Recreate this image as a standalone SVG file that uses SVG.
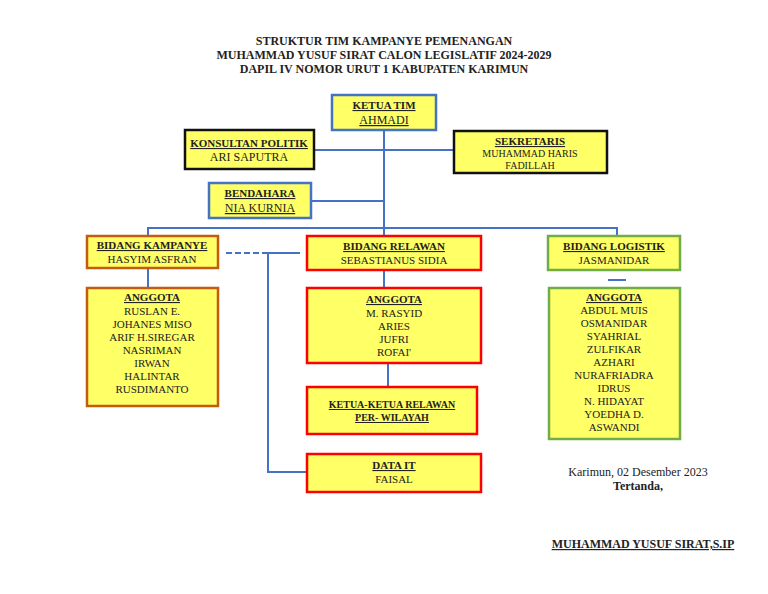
<svg xmlns="http://www.w3.org/2000/svg" width="768" height="594" viewBox="0 0 768 594">
<style>
text{font-family:"Liberation Serif","Times New Roman",serif;font-size:11px;fill:#222;text-anchor:middle}
.b{font-weight:bold}
.u{text-decoration:underline}
.t{font-weight:bold;font-size:12px}
rect{fill:#FFFF66;stroke-width:2.5}
.bl{stroke:#4472C4}.bk{stroke:#111}.or{stroke:#C55A11}.rd{stroke:#FF0000}.gr{stroke:#70AD47}
.c{fill:none;stroke:#4472C4;stroke-width:2}
</style>
<rect x="0" y="0" width="768" height="594" style="fill:#fff;stroke:none"/>
<g id="title">
<text class="t" x="384" y="45">STRUKTUR TIM KAMPANYE PEMENANGAN</text>
<text class="t" x="384" y="59">MUHAMMAD YUSUF SIRAT CALON LEGISLATIF 2024-2029</text>
<text class="t" x="384" y="73">DAPIL IV NOMOR URUT 1 KABUPATEN KARIMUN</text>
</g>
<g id="connectors">
<path class="c" d="M384 130V236M314 150H454M311 201H384M148 236V228H617V236M148 268V288M384 270V288M388 363V387M262 253H300M268 253V472H307M608 280H626"/>
<path class="c" d="M226 253H262" stroke-dasharray="6 3"/>
</g>
<g id="ketua"><rect class="bl" x="332" y="95" width="104" height="35"/><text class="b u" x="384" y="109">KETUA TIM</text><text class="u" x="384" y="124" style="font-size:12px">AHMADI</text></g>
<g id="konsultan"><rect class="bk" x="185" y="130" width="129" height="39"/><text class="b u" x="249" y="147">KONSULTAN POLITIK</text><text x="249" y="161" style="font-size:12px">ARI SAPUTRA</text></g>
<g id="sekretaris"><rect class="bk" x="454" y="131" width="153" height="42"/><text class="b u" x="530" y="145">SEKRETARIS</text><text x="530" y="157" style="font-size:10px">MUHAMMAD HARIS</text><text x="530" y="169" style="font-size:10px">FADILLAH</text></g>
<g id="bendahara"><rect class="bl" x="209" y="183" width="102" height="35"/><text class="b u" x="260" y="197">BENDAHARA</text><text class="u" x="260" y="212" style="font-size:12px">NIA KURNIA</text></g>
<g id="kampanye"><rect class="or" x="87" y="236" width="131" height="32"/><text class="b u" x="152" y="249">BIDANG KAMPANYE</text><text x="152" y="263">HASYIM ASFRAN</text></g>
<g id="relawan"><rect class="rd" x="307" y="236" width="174" height="34"/><text class="b u" x="394" y="250">BIDANG RELAWAN</text><text x="394" y="264">SEBASTIANUS SIDIA</text></g>
<g id="logistik"><rect class="gr" x="548" y="236" width="132" height="34"/><text class="b u" x="614" y="250">BIDANG LOGISTIK</text><text x="614" y="264">JASMANIDAR</text></g>
<g id="anggota-kampanye"><rect class="or" x="87" y="288" width="131" height="118"/>
<text class="b u" x="152" y="301">ANGGOTA</text><text x="152" y="315">RUSLAN E.</text><text x="152" y="328">JOHANES MISO</text><text x="152" y="341">ARIF H.SIREGAR</text><text x="152" y="354">NASRIMAN</text><text x="152" y="367">IRWAN</text><text x="152" y="380">HALINTAR</text><text x="152" y="393">RUSDIMANTO</text></g>
<g id="anggota-relawan"><rect class="rd" x="307" y="288" width="174" height="75"/>
<text class="b u" x="394" y="303">ANGGOTA</text><text x="394" y="317">M. RASYID</text><text x="394" y="330">ARIES</text><text x="394" y="343">JUFRI</text><text x="394" y="356">ROFAI'</text></g>
<g id="ketua-wilayah"><rect class="rd" x="307" y="387" width="170" height="47"/>
<text class="b u" x="392" y="408" style="font-size:10px">KETUA-KETUA RELAWAN</text><text class="b u" x="392" y="421" style="font-size:10px">PER- WILAYAH</text></g>
<g id="data-it"><rect class="rd" x="307" y="454" width="174" height="38"/><text class="b u" x="394" y="469">DATA IT</text><text x="394" y="483">FAISAL</text></g>
<g id="anggota-logistik"><rect class="gr" x="549" y="288" width="131" height="151"/>
<text class="b u" x="614" y="301">ANGGOTA</text><text x="614" y="314">ABDUL MUIS</text><text x="614" y="327">OSMANIDAR</text><text x="614" y="340">SYAHRIAL</text><text x="614" y="353">ZULFIKAR</text><text x="614" y="366">AZHARI</text><text x="614" y="379">NURAFRIADRA</text><text x="614" y="392">IDRUS</text><text x="614" y="405">N. HIDAYAT</text><text x="614" y="418">YOEDHA D.</text><text x="614" y="431">ASWANDI</text></g>
<g id="sign">
<text x="638" y="476" style="font-size:12px">Karimun, 02 Desember 2023</text>
<text class="b" x="638" y="490" style="font-size:12px">Tertanda,</text>
<text class="b u" x="643" y="548" style="font-size:12px">MUHAMMAD YUSUF SIRAT,S.IP</text>
</g>
</svg>
